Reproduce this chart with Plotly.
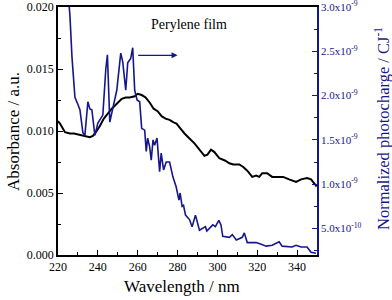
import plotly.graph_objects as go

# Absorbance (left axis)
abs_wl = [220, 221, 223.5, 226, 228, 231, 234, 236, 237.5, 239, 241, 243, 245, 247, 249.5, 252, 254, 256,
          258.5, 260, 262, 264, 266, 268, 270, 272, 274, 276, 278, 279.5, 281, 283.5, 286, 288.5, 291,
          293.5, 295, 296.8, 298.5, 301, 304, 306, 308, 311, 313, 315, 317.5, 319.5, 321, 322.5, 325,
          327.5, 331, 333, 336, 339.5, 342, 345, 347, 349.5, 350]
abs_val = [0.0108, 0.0106, 0.0099, 0.0098, 0.0098, 0.0097, 0.0096, 0.0095, 0.0096, 0.0099, 0.0104, 0.0110,
           0.0114, 0.0118, 0.0122, 0.0126, 0.0127, 0.0127, 0.0128, 0.0130, 0.0129, 0.0127, 0.0123, 0.0118,
           0.0116, 0.0112, 0.0110, 0.0109, 0.0107, 0.0106, 0.0103, 0.0098, 0.0094, 0.0090, 0.0085, 0.0080,
           0.0081, 0.0085, 0.0083, 0.0078, 0.0076, 0.0074, 0.0073, 0.0073, 0.0071, 0.0068, 0.0063, 0.0064,
           0.0063, 0.0066, 0.0066, 0.0063, 0.0063, 0.0063, 0.0061, 0.0059, 0.0061, 0.0062, 0.0061, 0.0056,
           0.0057]

# Normalized photocharge (right axis), in units of 1e-9 C/J
pc_wl = [225.3, 226, 227, 228.5, 230, 231, 232.5, 233.5, 235, 236, 237, 238.5, 240, 242.5, 244, 244.8, 246,
         247.5, 249.5, 251.5, 252.5, 254, 255, 256.5, 257.5, 258.5, 259.7, 261, 262, 263.5, 264.3, 265,
         266, 266.8, 267.7, 268.5, 269.7, 271, 271.8, 273, 274.3, 276, 277.7, 279.3, 280.7, 281.3, 282.3,
         283, 284, 286, 287.3, 289, 291, 294, 294.7, 297.7, 299, 300.7, 301.8, 302.7, 306, 307.5, 309.5,
         312.5, 313.5, 315, 319.5, 322, 324.5, 327.5, 331, 332.5, 337.5, 339.5, 342, 345, 347, 349.5]
pc_val_e9 = [3.1, 2.9, 2.44, 1.98, 1.90, 1.84, 1.58, 1.55, 1.93, 1.85, 1.84, 1.55, 1.69, 1.78, 2.30, 2.46,
             1.70, 1.86, 2.06, 2.48, 2.38, 2.06, 2.37, 2.42, 2.54, 2.06, 1.95, 1.93, 1.63, 1.61, 1.37, 1.52,
             1.42, 1.27, 1.50, 1.44, 1.52, 1.14, 1.35, 1.16, 1.25, 1.25, 1.08, 0.97, 0.82, 0.90, 0.75, 0.76,
             0.65, 0.60, 0.52, 0.65, 0.48, 0.52, 0.47, 0.54, 0.52, 0.59, 0.54, 0.41, 0.40, 0.43, 0.37, 0.40,
             0.45, 0.34, 0.34, 0.32, 0.30, 0.31, 0.35, 0.30, 0.29, 0.31, 0.29, 0.29, 0.23, 0.22]
pc_val = [v * 1e-9 for v in pc_val_e9]

x_ticks = [220, 240, 260, 280, 300, 320, 340]
y_ticks = [0.000, 0.005, 0.010, 0.015, 0.020]
y2_ticks = [0.5e-9, 1.0e-9, 1.5e-9, 2.0e-9, 2.5e-9, 3.0e-9]
y2_text = ["5.0x10<sup>-10</sup>", "1.0x10<sup>-9</sup>", "1.5x10<sup>-9</sup>",
           "2.0x10<sup>-9</sup>", "2.5x10<sup>-9</sup>", "3.0x10<sup>-9</sup>"]

NAVY = "#16168c"
FONT = "Liberation Serif"

fig = go.Figure()
fig.add_trace(go.Scatter(x=abs_wl, y=abs_val, mode="lines", line=dict(color="black", width=2),
                         showlegend=False))
fig.add_trace(go.Scatter(x=pc_wl, y=pc_val, mode="lines", yaxis="y2",
                         line=dict(color=NAVY, width=1.6), showlegend=False))

fig.add_annotation(x=285.5, y=0.01855, text="Perylene film", showarrow=False,
                   font=dict(family=FONT, size=14, color="black"))
fig.add_annotation(x=280, y=0.0161, ax=259.5, ay=0.0161, xref="x", yref="y", axref="x", ayref="y",
                   text="", showarrow=True, arrowhead=2, arrowsize=1, arrowwidth=1.2, arrowcolor=NAVY)

# axis titles as annotations for exact placement
fig.add_annotation(x=0.477, y=-0.129, xref="paper", yref="paper", text="Wavelength / nm",
                   showarrow=False, xanchor="center", yanchor="middle",
                   font=dict(family=FONT, size=17, color="black"))
fig.add_annotation(x=-0.174, y=0.5, xref="paper", yref="paper", text="Absorbance / a.u.",
                   showarrow=False, xanchor="center", yanchor="middle", textangle=-90,
                   font=dict(family=FONT, size=17, color="black"))
fig.add_annotation(x=1.251, y=0.508, xref="paper", yref="paper",
                   text="Normalized photocharge / CJ<sup>-1</sup>",
                   showarrow=False, xanchor="center", yanchor="middle", textangle=-90,
                   font=dict(family=FONT, size=16.5, color=NAVY))

fig.update_layout(
    width=392, height=300,
    margin=dict(l=58, r=75, t=7, b=45, autoexpand=False),
    paper_bgcolor="white", plot_bgcolor="white",
    font=dict(family=FONT, size=12, color="black"),
    xaxis=dict(range=[220, 350], tickvals=x_ticks, ticks="inside", ticklen=5, tickcolor="black",
               showline=True, linecolor="black", linewidth=1.5, mirror=True, showgrid=False,
               zeroline=False, automargin=False,
               minor=dict(ticks="inside", ticklen=3, dtick=10, tick0=220,
                          tickcolor="black", showgrid=False),
               tickfont=dict(size=12)),
    yaxis=dict(range=[0, 0.02], tickvals=y_ticks, tickformat=".3f", ticks="inside", ticklen=5,
               tickcolor="black", showline=True, linecolor="black", linewidth=1.5, showgrid=False,
               zeroline=False, automargin=False, ticklabeloverflow="allow",
               minor=dict(ticks="inside", ticklen=3, dtick=0.0025, tick0=0,
                          tickcolor="black", showgrid=False),
               tickfont=dict(size=12)),
    yaxis2=dict(range=[0.2e-9, 3.0e-9], overlaying="y", side="right", tickvals=y2_ticks,
                ticktext=y2_text, ticks="inside", ticklen=5, tickcolor=NAVY, showline=True,
                linecolor=NAVY, linewidth=1.5, showgrid=False, zeroline=False, automargin=False,
                ticklabeloverflow="allow",
                minor=dict(ticks="inside", ticklen=3, dtick=0.25e-9, tick0=0, tickcolor=NAVY,
                           showgrid=False),
                tickfont=dict(size=11, color=NAVY)),
)

fig.write_html("out.html", config={"displayModeBar": False},
               post_script="document.body.style.margin='0px';")
